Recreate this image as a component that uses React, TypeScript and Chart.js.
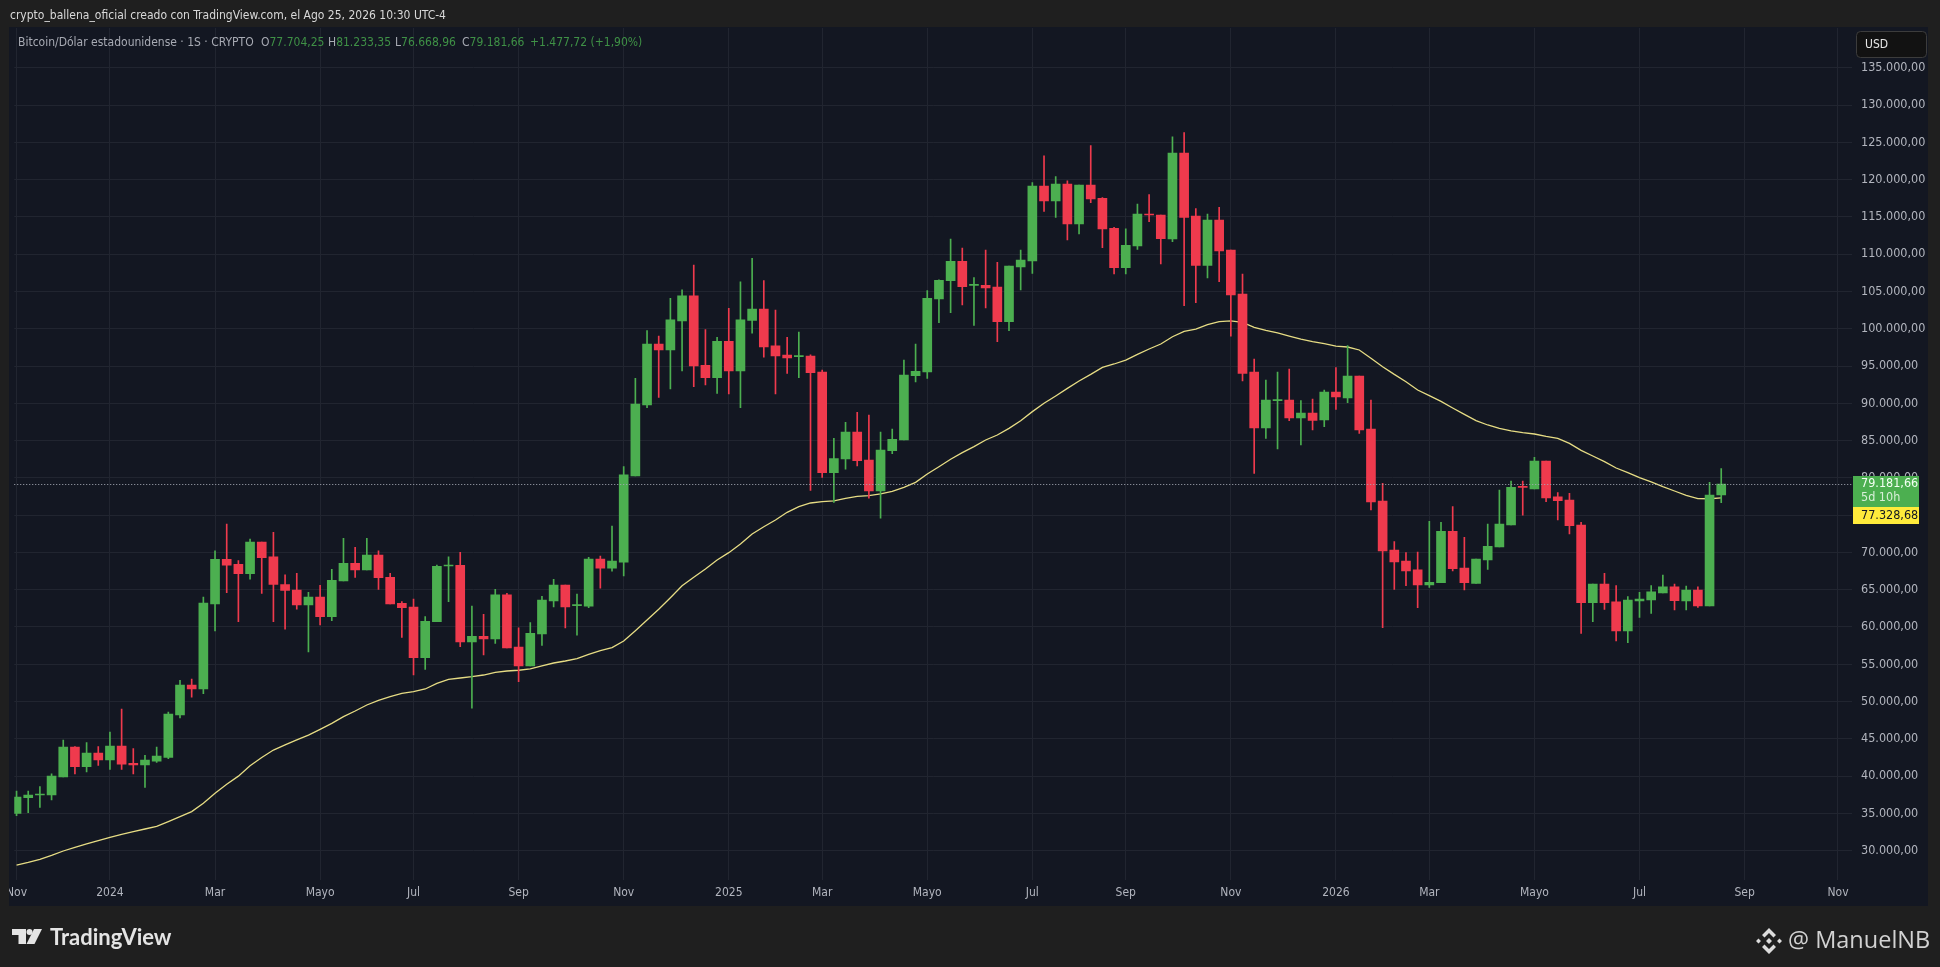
import React, { useEffect, useRef } from "react";
import { Chart, registerables } from "chart.js";

Chart.register(...registerables);

// Weekly BTC/USD candles in thousands of dollars, one entry per week from the week of 6 Nov 2023.
const open = [
  35.0, 37.1, 37.47, 37.47, 39.9, 43.9, 41.27, 43.1, 42.16, 44.04,
  41.7, 41.5, 42.0, 42.5, 48.2, 52.2, 51.7, 63.1, 69.07, 68.4,
  67.15, 71.4, 69.4, 65.7, 64.96, 62.95, 64.0, 61.4, 66.17, 68.54,
  67.64, 69.65, 66.66, 63.17, 62.68, 55.9, 60.7, 68.18, 68.27, 58.0,
  58.75, 58.4, 64.3, 57.3, 54.77, 59.06, 63.5, 65.63, 62.86, 62.8,
  69.12, 67.9, 68.7, 80.25, 89.77, 97.95, 97.15, 101.04, 104.4, 95.1,
  93.44, 98.3, 94.33, 101.1, 102.65, 97.7, 96.48, 96.25, 96.34, 94.2,
  80.7, 82.53, 86.15, 82.4, 78.24, 83.65, 85.08, 93.7, 94.2, 104.0,
  106.45, 109.04, 105.82, 105.82, 105.6, 100.95, 108.3, 109.08, 119.14, 117.13,
  119.41, 114.04, 119.27, 117.5, 113.46, 108.2, 111.09, 115.34, 115.25, 112.03,
  123.56, 115.12, 108.5, 114.58, 110.56, 104.66, 94.2, 86.69, 90.35, 90.44,
  88.03, 88.7, 87.76, 91.52, 90.71, 93.66, 86.55, 76.9, 70.33, 68.85,
  67.65, 65.63, 65.95, 72.83, 67.91, 65.86, 68.99, 70.73, 73.68, 78.82,
  78.51, 82.26, 77.44, 77.03, 73.68, 63.27, 65.77, 63.36, 59.47, 63.49,
  63.62, 64.56, 65.37, 63.49, 64.96, 62.82, 77.70425,
];
const high = [
  38.0, 38.0, 38.6, 40.3, 44.85, 43.95, 44.5, 43.95, 45.9, 49.0,
  43.7, 42.8, 43.9, 48.6, 52.85, 53.0, 64.0, 70.2, 73.8, 68.9,
  71.8, 71.4, 72.7, 67.0, 67.2, 64.65, 65.6, 67.73, 71.9, 70.7,
  71.9, 70.2, 67.2, 63.4, 63.75, 61.4, 68.3, 69.4, 70.0, 62.8,
  61.7, 65.05, 64.5, 59.9, 60.6, 64.1, 66.4, 65.63, 64.4, 69.35,
  69.5, 73.54, 81.5, 93.35, 99.74, 99.0, 104.08, 105.2, 108.55, 99.9,
  98.85, 102.74, 106.3, 109.44, 106.45, 102.5, 98.85, 99.56, 96.5, 94.47,
  85.3, 87.45, 88.8, 88.43, 86.15, 86.55, 95.8, 97.95, 105.1, 106.55,
  112.03, 110.8, 106.85, 110.56, 108.9, 108.4, 110.56, 119.6, 123.2, 120.4,
  119.85, 119.27, 124.55, 117.6, 113.6, 113.4, 116.73, 117.98, 115.25, 125.75,
  126.29, 116.1, 115.38, 116.28, 110.56, 107.34, 95.94, 93.12, 94.2, 94.6,
  90.35, 90.58, 91.78, 94.78, 97.73, 93.66, 90.44, 79.27, 71.45, 69.97,
  70.06, 74.17, 74.04, 76.14, 72.03, 69.12, 73.81, 78.37, 79.58, 79.58,
  82.75, 82.26, 78.02, 77.93, 74.04, 65.77, 67.2, 65.55, 64.07, 64.65,
  65.55, 66.97, 65.77, 65.5, 65.4, 79.4, 81.23335,
];
const low = [
  34.7, 35.1, 35.8, 36.8, 39.9, 40.3, 40.55, 41.45, 40.9, 40.9,
  40.3, 38.5, 41.85, 42.34, 47.8, 50.6, 51.06, 59.46, 64.6, 60.7,
  66.4, 64.5, 60.7, 59.7, 62.4, 56.65, 60.27, 60.85, 66.17, 66.66,
  67.64, 65.05, 63.1, 58.6, 53.56, 54.3, 60.7, 63.4, 57.36, 49.1,
  56.24, 57.8, 57.2, 52.67, 54.77, 57.54, 62.7, 59.87, 58.9, 62.6,
  65.2, 67.5, 66.84, 80.25, 89.4, 90.8, 91.92, 94.33, 92.23, 92.46,
  91.34, 91.25, 89.4, 99.4, 96.17, 91.25, 94.0, 93.44, 78.3, 80.07,
  76.7, 81.15, 81.6, 77.26, 74.58, 83.25, 85.08, 92.86, 93.35, 100.8,
  102.15, 103.18, 100.46, 102.78, 98.27, 99.74, 105.2, 107.43, 115.74, 114.94,
  111.9, 112.7, 116.9, 110.87, 107.34, 107.34, 110.65, 114.36, 108.68, 111.67,
  103.09, 103.5, 106.8, 106.31, 99.0, 92.99, 80.6, 85.3, 83.87, 87.67,
  84.41, 86.42, 86.87, 89.19, 90.09, 85.97, 75.69, 59.9, 65.05, 65.55,
  62.59, 65.32, 65.95, 67.51, 64.96, 65.86, 67.73, 70.73, 73.68, 74.98,
  78.51, 76.81, 74.35, 72.47, 59.15, 60.72, 62.37, 58.12, 57.9, 61.3,
  61.83, 64.56, 62.28, 62.28, 62.64, 62.82, 76.66896,
];
const close = [
  37.2, 37.47, 37.6, 40.0, 43.9, 41.27, 43.1, 42.16, 44.04, 41.6,
  41.5, 42.16, 42.7, 48.33, 52.2, 51.7, 63.2, 69.07, 68.3, 67.15,
  71.4, 69.3, 65.7, 64.9, 62.95, 64.0, 61.4, 66.26, 68.54, 67.64,
  69.65, 66.6, 63.1, 62.6, 55.9, 60.76, 68.13, 68.27, 58.0, 58.75,
  58.4, 64.3, 57.2, 54.77, 59.15, 63.6, 65.63, 62.68, 62.95, 69.12,
  67.9, 68.85, 80.4, 89.9, 97.95, 97.15, 101.2, 104.4, 95.0, 93.44,
  98.3, 94.33, 101.2, 102.65, 97.55, 96.34, 96.08, 96.34, 94.1, 80.7,
  82.6, 86.15, 82.3, 78.24, 83.74, 85.17, 93.8, 94.3, 104.08, 106.5,
  109.04, 105.64, 105.87, 105.46, 100.95, 108.41, 109.2, 119.14, 117.13, 119.41,
  114.04, 119.27, 117.4, 113.4, 108.2, 111.18, 115.38, 115.25, 112.08, 123.56,
  114.94, 108.5, 114.58, 110.42, 104.52, 94.0, 86.69, 90.44, 90.44, 88.03,
  88.7, 87.72, 91.52, 90.85, 93.66, 86.42, 76.76, 70.19, 68.72, 67.51,
  65.63, 65.99, 72.83, 67.82, 65.95, 69.12, 70.82, 73.81, 78.73, 78.73,
  82.26, 77.3, 76.94, 73.59, 63.27, 65.77, 63.27, 59.47, 63.62, 63.76,
  64.7, 65.37, 63.53, 64.96, 62.82, 77.7, 79.18166,
];
const movingAverage = [
  28.08, 28.44, 28.84, 29.38, 29.96, 30.45, 30.9, 31.35, 31.79, 32.2,
  32.55, 32.91, 33.27, 33.9, 34.56, 35.24, 36.35, 37.69, 38.9, 40.0,
  41.4, 42.5, 43.5, 44.18, 44.85, 45.5, 46.28, 47.08, 47.97, 48.73,
  49.54, 50.17, 50.66, 51.1, 51.33, 51.69, 52.45, 52.98, 53.16, 53.34,
  53.56, 53.92, 54.1, 54.2, 54.37, 54.77, 55.17, 55.44, 55.75, 56.33,
  56.83, 57.23, 58.12, 59.5, 60.94, 62.37, 63.93, 65.54, 66.66, 67.78,
  68.98, 69.97, 71.13, 72.47, 73.45, 74.35, 75.38, 76.14, 76.63, 76.81,
  76.9, 77.26, 77.53, 77.61, 77.84, 78.2, 78.73, 79.4, 80.52, 81.5,
  82.49, 83.38, 84.19, 85.08, 85.75, 86.64, 87.67, 88.88, 90.0, 90.98,
  92.0, 92.99, 93.88, 94.82, 95.27, 95.8, 96.57, 97.28, 97.95, 98.93,
  99.65, 99.96, 100.54, 100.95, 101.04, 100.86, 100.19, 99.78, 99.43, 99.02,
  98.62, 98.26, 98.0, 97.68, 97.55, 97.15, 96.03, 94.91, 93.88, 92.9,
  91.78, 91.02, 90.26, 89.37, 88.52, 87.67, 87.09, 86.64, 86.29, 86.06,
  85.88, 85.57, 85.3, 84.63, 83.69, 82.93, 82.17, 81.32, 80.7, 80.03,
  79.45, 78.82, 78.24, 77.66, 77.21, 77.2, 77.32868,
];
const priceTicks = [
  30, 35, 40, 45, 50, 55, 60, 65, 70, 75, 80, 85, 90, 95, 100, 105, 110, 115, 120, 125, 130, 135,
];
const timeTickWeeks = [0, 8, 17, 26, 34, 43, 52, 61, 69, 78, 87, 95, 104, 113, 121, 130, 139, 148, 156];
const timeTickLabels = [
  "Nov", "2024", "Mar", "Mayo", "Jul", "Sep", "Nov", "2025", "Mar", "Mayo", "Jul", "Sep", "Nov", "2026", "Mar", "Mayo", "Jul", "Sep", "Nov",
];

const FONT = "'DejaVu Sans Condensed', 'DejaVu Sans', sans-serif";
const GREEN = "#4caf50";
const RED = "#ef3a4d";
const PANE = "#131722";
const OUTER = "#1f1f1f";
const GRID = "#212530";
const AXIS_TEXT = "#b2b5be";

const fmt = (v: number) =>
  (v * 1000).toLocaleString("de-DE", { minimumFractionDigits: 2, maximumFractionDigits: 2 });

const paneChrome = {
  id: "paneChrome",
  beforeDraw(chart: any) {
    const c = chart.ctx;
    c.save();
    c.fillStyle = PANE;
    c.fillRect(9, 27, 1919, 879);
    c.restore();
  },
  afterDraw(chart: any) {
    const c = chart.ctx;
    const y = chart.scales.y;
    const { left, right } = chart.chartArea;
    const last = close[close.length - 1];
    const py = y.getPixelForValue(last);
    c.save();
    // clip of the time axis at the pane edge
    c.fillStyle = OUTER;
    c.fillRect(0, 27, 9, 879);
    // current price line
    c.strokeStyle = "#a9adb8";
    c.lineWidth = 1;
    c.setLineDash([1, 2]);
    c.beginPath();
    c.moveTo(left, Math.round(py) + 0.5);
    c.lineTo(right, Math.round(py) + 0.5);
    c.stroke();
    c.setLineDash([]);
    // price labels
    c.fillStyle = GREEN;
    c.fillRect(1853, 476, 66, 31);
    c.fillStyle = "#ffeb3b";
    c.fillRect(1853, 507, 66, 17);
    c.textBaseline = "middle";
    c.font = `12.5px ${FONT}`;
    c.fillStyle = "#f2fff2";
    c.fillText(fmt(last), 1861, 484);
    c.fillStyle = "#d8efd8";
    c.fillText("5d 10h", 1861, 498);
    c.fillStyle = "#131722";
    c.fillText(fmt(movingAverage[movingAverage.length - 1]), 1861, 515.5);
    // currency button
    c.fillStyle = "#121212";
    c.strokeStyle = "#3c3c3c";
    c.beginPath();
    c.roundRect(1856.5, 31.5, 70, 26, 4);
    c.fill();
    c.stroke();
    c.fillStyle = "#e6e6e6";
    c.font = `12px ${FONT}`;
    c.fillText("USD", 1865, 44.5);
    c.restore();
  },
};

export default function App() {
  const ref = useRef<HTMLCanvasElement>(null);

  useEffect(() => {
    const weeks = open.map((_, i) => i);
    const colors = weeks.map((i) => (close[i] >= open[i] ? GREEN : RED));
    const chart = new Chart(ref.current!, {
      type: "bar",
      data: {
        datasets: [
          {
            type: "line",
            label: "MA",
            data: weeks.map((i) => ({ x: i, y: movingAverage[i] })),
            borderColor: "#e6dc84",
            borderWidth: 1.3,
            pointRadius: 0,
            tension: 0,
            order: 3,
          },
          {
            type: "bar",
            label: "Wick",
            data: weeks.map((i) => ({ x: i, y: [low[i], high[i]] })),
            backgroundColor: colors,
            barThickness: 1,
            grouped: false,
            order: 2,
          },
          {
            type: "bar",
            label: "Body",
            data: weeks.map((i) => ({ x: i, y: [open[i], close[i]] })),
            backgroundColor: colors,
            barThickness: 9,
            minBarLength: 1,
            grouped: false,
            order: 1,
          },
        ] as any,
      },
      options: {
        animation: false,
        responsive: false,
        devicePixelRatio: 1,
        layout: { padding: { left: 10, top: 28, right: 12, bottom: 61 } },
        plugins: { legend: { display: false }, tooltip: { enabled: false } },
        scales: {
          x: {
            type: "linear",
            offset: false,
            min: -0.197,
            max: 157.2,
            grid: { color: GRID, lineWidth: 1, drawTicks: false, offset: false },
            border: { display: false },
            afterBuildTicks: (axis: any) => {
              axis.ticks = timeTickWeeks.map((value) => ({ value }));
            },
            afterFit: (axis: any) => {
              axis.height = 26;
            },
            ticks: {
              autoSkip: false,
              maxRotation: 0,
              minRotation: 0,
              padding: 6,
              color: AXIS_TEXT,
              font: { family: FONT, size: 12 },
              callback: (v: any) => timeTickLabels[timeTickWeeks.indexOf(Number(v))] ?? "",
            },
          },
          y: {
            type: "linear",
            position: "right",
            min: 26.07,
            max: 140.33,
            grid: { color: GRID, lineWidth: 1, drawTicks: false },
            border: { display: false },
            afterBuildTicks: (axis: any) => {
              axis.ticks = priceTicks.map((value) => ({ value }));
            },
            afterFit: (axis: any) => {
              axis.width = 76;
            },
            ticks: {
              autoSkip: false,
              padding: 9,
              crossAlign: "near",
              color: AXIS_TEXT,
              font: { family: FONT, size: 12.5 },
              callback: (v: any) => fmt(Number(v)),
            },
          },
        },
      } as any,
      plugins: [paneChrome],
    });
    return () => chart.destroy();
  }, []);

  const text = (style: React.CSSProperties, children: React.ReactNode) => (
    <div style={{ position: "absolute", whiteSpace: "pre", lineHeight: 1, ...style }}>{children}</div>
  );
  const lg = (left: number, label: string, value: string) =>
    text(
      { left, top: 36, fontSize: 12, color: "#a8abb4" },
      <>
        {label}
        <span style={{ color: "#3f9146" }}>{value}</span>
      </>
    );

  return (
    <div style={{ position: "fixed", left: 0, top: 0, width: 1940, height: 967, background: OUTER, overflow: "hidden", fontFamily: FONT }}>
      <canvas ref={ref} width={1940} height={967} style={{ position: "absolute", left: 0, top: 0, width: 1940, height: 967 }} />
      {text({ left: 10, top: 9, fontSize: 12, color: "#d8d8d8" }, "crypto_ballena_oficial creado con TradingView.com, el Ago 25, 2026 10:30 UTC-4")}
      {text({ left: 18, top: 36, fontSize: 12, color: "#a8abb4" }, "Bitcoin/Dólar estadounidense · 1S · CRYPTO")}
      {lg(261, "O", "77.704,25")}
      {lg(328, "H", "81.233,35")}
      {lg(395, "L", "76.668,96")}
      {lg(462, "C", "79.181,66")}
      {lg(530, "", "+1.477,72 (+1,90%)")}
      <svg style={{ position: "absolute", left: 12, top: 929 }} width={30} height={15} viewBox="0 0 30 15">
        <path d="M0 0H14V15H6.5V6H0Z M22 0H30L22.5 15H14.5Z" fill="#e4e4e4" />
        <circle cx={17.5} cy={3} r={3} fill="#e4e4e4" />
      </svg>
      {text({ left: 50, top: 926, fontSize: 22, fontWeight: 700, fontFamily: "Lato", color: "#e4e4e4" }, "TradingView")}
      <svg style={{ position: "absolute", left: 1755, top: 927 }} width={28} height={28} viewBox="0 0 28 28">
        <path
          d="M14 1L21 8L18.5 10.5L14 6L9.5 10.5L7 8Z M14 27L21 20L18.5 17.5L14 22L9.5 17.5L7 20Z M14 11L17 14L14 17L11 14Z M3.5 11.5L6 14L3.5 16.5L1 14Z M24.5 11.5L27 14L24.5 16.5L22 14Z"
          fill="#dcdcdc"
        />
      </svg>
      {text({ left: 1788, top: 928, fontSize: 23.5, fontFamily: "'Open Sans'", color: "#d2d2d2" }, "@ ManuelNB")}
    </div>
  );
}
